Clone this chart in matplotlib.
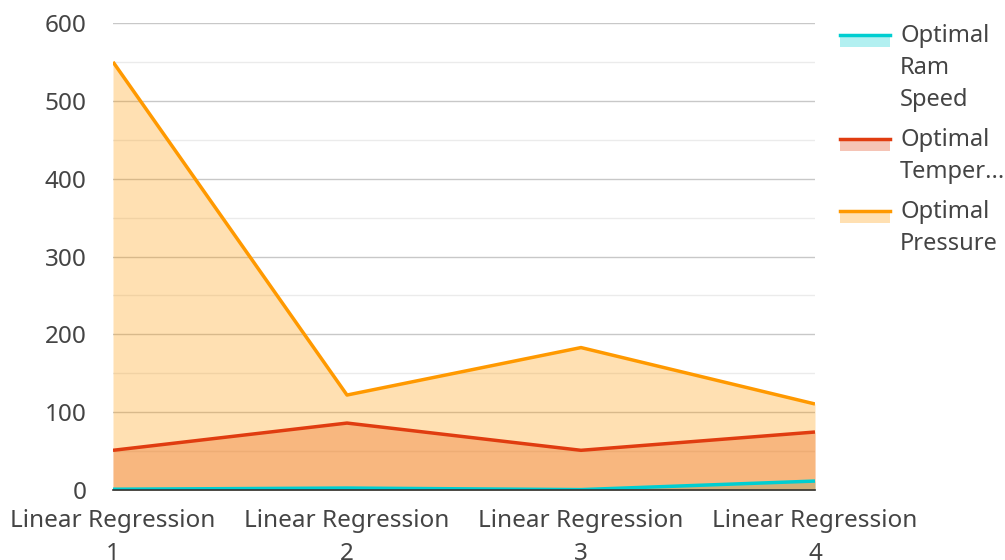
import matplotlib.pyplot as plt
from matplotlib.patches import Rectangle
from matplotlib.lines import Line2D
from matplotlib.ticker import MultipleLocator

plt.rcParams['font.family'] = ['Noto Sans', 'DejaVu Sans']

categories = ['Linear Regression\n1', 'Linear Regression\n2',
              'Linear Regression\n3', 'Linear Regression\n4']
ram_speed = [1, 2.5, 0.5, 11.5]
temperature = [51, 86, 51, 74.5]
pressure = [550, 122, 183, 110.5]

series = [
    ('Optimal\nRam\nSpeed', ram_speed, '#00CED1'),
    ('Optimal\nTemper...', temperature, '#E03C10'),
    ('Optimal\nPressure', pressure, '#FF9900'),
]

fig = plt.figure(figsize=(10.05, 5.6), dpi=100)
ax = fig.add_axes([113 / 1005, 1 - 490 / 560, (815 - 113) / 1005, (490 - 23) / 560])

x = list(range(len(categories)))
for name, vals, col in series:
    ax.fill_between(x, 0, vals, color=col, alpha=0.3, linewidth=0, zorder=2)
# lines: big series at the back, ram speed on top
for name, vals, col in reversed(series):
    ax.plot(x, vals, color=col, linewidth=2.5, zorder=3, solid_capstyle='butt')

ax.set_xlim(0, 3)
ax.set_ylim(0, 600)
ax.yaxis.set_major_locator(MultipleLocator(100))
ax.yaxis.set_minor_locator(MultipleLocator(50))
ax.grid(which='major', axis='y', color='#c8c8c8', linewidth=1, zorder=0)
ax.grid(which='minor', axis='y', color='#ebebeb', linewidth=1, zorder=0)
ax.set_xticks(x)
ax.set_xticklabels(categories, linespacing=1.45)
for s in ['top', 'right', 'left']:
    ax.spines[s].set_visible(False)
ax.spines['bottom'].set_color('#333333')
ax.spines['bottom'].set_linewidth(1.2)
ax.spines['bottom'].set_zorder(4)
ax.tick_params(axis='both', which='both', length=0, labelsize=17.5, colors='#444444')
ax.tick_params(axis='x', pad=14)
ax.tick_params(axis='y', pad=19)

# legend on the right, line + light fill swatch
tops = [35, 139, 211]
for (name, vals, col), ty in zip(series, tops):
    fy = 1 - ty / 560
    fig.patches.append(Rectangle((840 / 1005, fy - 12 / 560), 50 / 1005, 12 / 560,
                                 transform=fig.transFigure, color=col, alpha=0.3,
                                 linewidth=0))
    fig.lines.append(Line2D([840 / 1005, 890 / 1005], [fy, fy], transform=fig.transFigure,
                            color=col, linewidth=2.5))
    fig.text(900 / 1005, 1 - (ty - 11) / 560, name, ha='left', va='top',
             fontsize=17, color='#444444', linespacing=1.45)

fig.savefig('out.png', dpi=100)
